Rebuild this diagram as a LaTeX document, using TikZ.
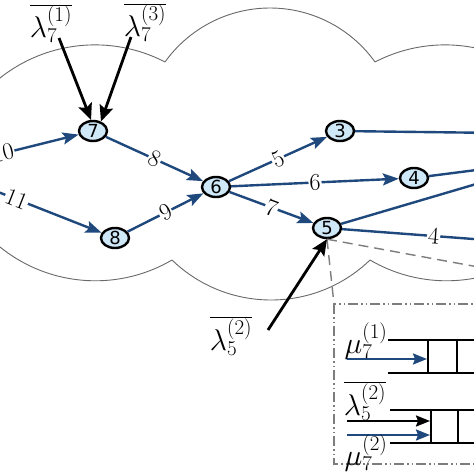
\RequirePackage{fix-cm}
\documentclass[tikz,border=0pt]{standalone}
\usepackage{fontspec}
\newfontfamily\numfont{DejaVu Sans}
\usetikzlibrary{arrows.meta,shapes.geometric}
\definecolor{eblue}{RGB}{31,73,125}
\definecolor{nfill}{RGB}{207,232,248}
\definecolor{cloudgray}{RGB}{105,105,105}
\definecolor{dgray}{RGB}{125,125,125}
\begin{document}
\begin{tikzpicture}[x=1pt,y=-1pt,
 qnode/.style={ellipse,draw=black,line width=2.4pt,fill=nfill,minimum width=28pt,minimum height=20pt,inner sep=0pt,font=\numfont\fontsize{18}{18}\selectfont},
 flowarrow/.style={draw=eblue,line width=2.4pt,-{Stealth[length=16pt,width=12pt,inset=3pt]}},
 plainlink/.style={draw=eblue,line width=2.4pt},
 wlab/.style={fill=white,inner sep=1pt,sloped,font=\fontsize{24}{24}\selectfont},
 extarrow/.style={draw=black,line width=2.8pt,-{Stealth[length=16pt,width=14pt,inset=3pt]}},
 mlab/.style={inner sep=0pt,font=\fontsize{30}{30}\selectfont},
 cloudline/.style={draw=cloudgray,line width=0.9pt},
 zoomline/.style={draw=dgray,line width=1.4pt,dash pattern=on 10pt off 6pt},
 boxline/.style={draw=dgray,line width=1.4pt,dash pattern=on 10pt off 3pt on 1.5pt off 3pt on 1.5pt off 3pt},
 qline/.style={draw=black,line width=2.4pt},
 qarrow/.style={line width=2.2pt,-{Stealth[length=14pt,width=11pt,inset=2pt]}}
]
\useasboundingbox[fill=white] (0,0) rectangle (474,474);

% cloud outline
\draw[cloudline] (94.9,197.4) ++(-62.6:152.5) arc[start angle=-62.6,end angle=-150,radius=152.5];
\draw[cloudline] (270,137.1) ++(-144.4:129.1) arc[start angle=-144.4,end angle=-35.6,radius=129.1];
\draw[cloudline] (445.1,197.4) ++(-117.4:152.5) arc[start angle=-117.4,end angle=-30,radius=152.5];
\draw[cloudline] (95.4,129.2) ++(59.6:151.6) arc[start angle=59.6,end angle=150,radius=151.6];
\draw[cloudline] (271,157.5) ++(134:142.5) arc[start angle=134,end angle=46,radius=142.5];
\draw[cloudline] (446.6,129.2) ++(120.4:151.6) arc[start angle=120.4,end angle=30,radius=151.6];

% nodes
\node[qnode] (7) at (93,131) {7};
\node[qnode] (3) at (340,131) {3};
\node[qnode] (6) at (216,187) {6};
\node[qnode] (4) at (414,178) {4};
\node[qnode] (8) at (115,238) {8};
\node[qnode] (5) at (327,228) {5};

\coordinate (a10) at (-40,164);
\coordinate (a11) at (-40,177);
\coordinate (r3) at (500,133);
\coordinate (r4) at (500,167);
\coordinate (r5a) at (500,177);
\coordinate (r5b) at (500,241);

% zoom lines
\coordinate (zc1) at (334,304);
\coordinate (zc2) at (620,293);
\draw[zoomline] (5.south) -- (zc1);
\draw[zoomline] (5.south) -- (zc2);

% blue flows
\draw[flowarrow] (a10) -- node[wlab,pos=0.36]{10} (7);
\draw[flowarrow] (a11) -- node[wlab,pos=0.4]{11} (8);
\draw[flowarrow] (7) -- node[wlab]{8} (6);
\draw[flowarrow] (8) -- node[wlab]{9} (6);
\draw[flowarrow] (6) -- node[wlab]{5} (3);
\draw[flowarrow] (6) -- node[wlab]{6} (4);
\draw[flowarrow] (6) -- node[wlab]{7} (5);
\draw[plainlink] (3) -- (r3);
\draw[plainlink] (4) -- (r4);
\draw[plainlink] (5) -- (r5a);
\draw[plainlink] (5) -- node[wlab,pos=0.58]{4} (r5b);

% external arrivals
\node[mlab,anchor=north] (L71) at (51,4) {$\overline{\lambda_7^{(1)}}$};
\node[mlab,anchor=north] (L73) at (145,3) {$\overline{\lambda_7^{(3)}}$};
\node[mlab] (L52) at (231,336) {$\overline{\lambda_5^{(2)}}$};
\coordinate (s71) at (59,38);
\coordinate (s73) at (131,37);
\coordinate (s52) at (268,330);
\draw[extarrow] (s71) -- (7.100);
\draw[extarrow] (s73) -- (7.50);
\draw[extarrow] (s52) -- (5.south);

% zoom box
\draw[boxline] (zc1) rectangle (560,464);

% queue 1
\draw[qline] (388,340) -- (500,340);
\draw[qline] (388,373) -- (500,373);
\draw[qline] (428,340) -- (428,373);
\draw[qline] (457,340) -- (457,373);
\coordinate (q1in) at (347,359);
\coordinate (q1end) at (427,359);
\draw[qarrow,eblue] (q1in) -- (q1end);
\node[mlab] (M71) at (366,341) {$\mu_7^{(1)}$};

% queue 2
\draw[qline] (390,410) -- (500,410);
\draw[qline] (390,443) -- (500,443);
\draw[qline] (431,410) -- (431,443);
\draw[qline] (458,410) -- (458,443);
\coordinate (q2ain) at (347,421);
\coordinate (q2aend) at (430,421);
\coordinate (q2bin) at (347,435);
\coordinate (q2bend) at (430,435);
\draw[qarrow,black] (q2ain) -- (q2aend);
\draw[qarrow,eblue] (q2bin) -- (q2bend);
\node[mlab] (L52b) at (365,401) {$\overline{\lambda_5^{(2)}}$};
\node[mlab] (M72) at (366,453) {$\mu_7^{(2)}$};
\end{tikzpicture}
\end{document}
